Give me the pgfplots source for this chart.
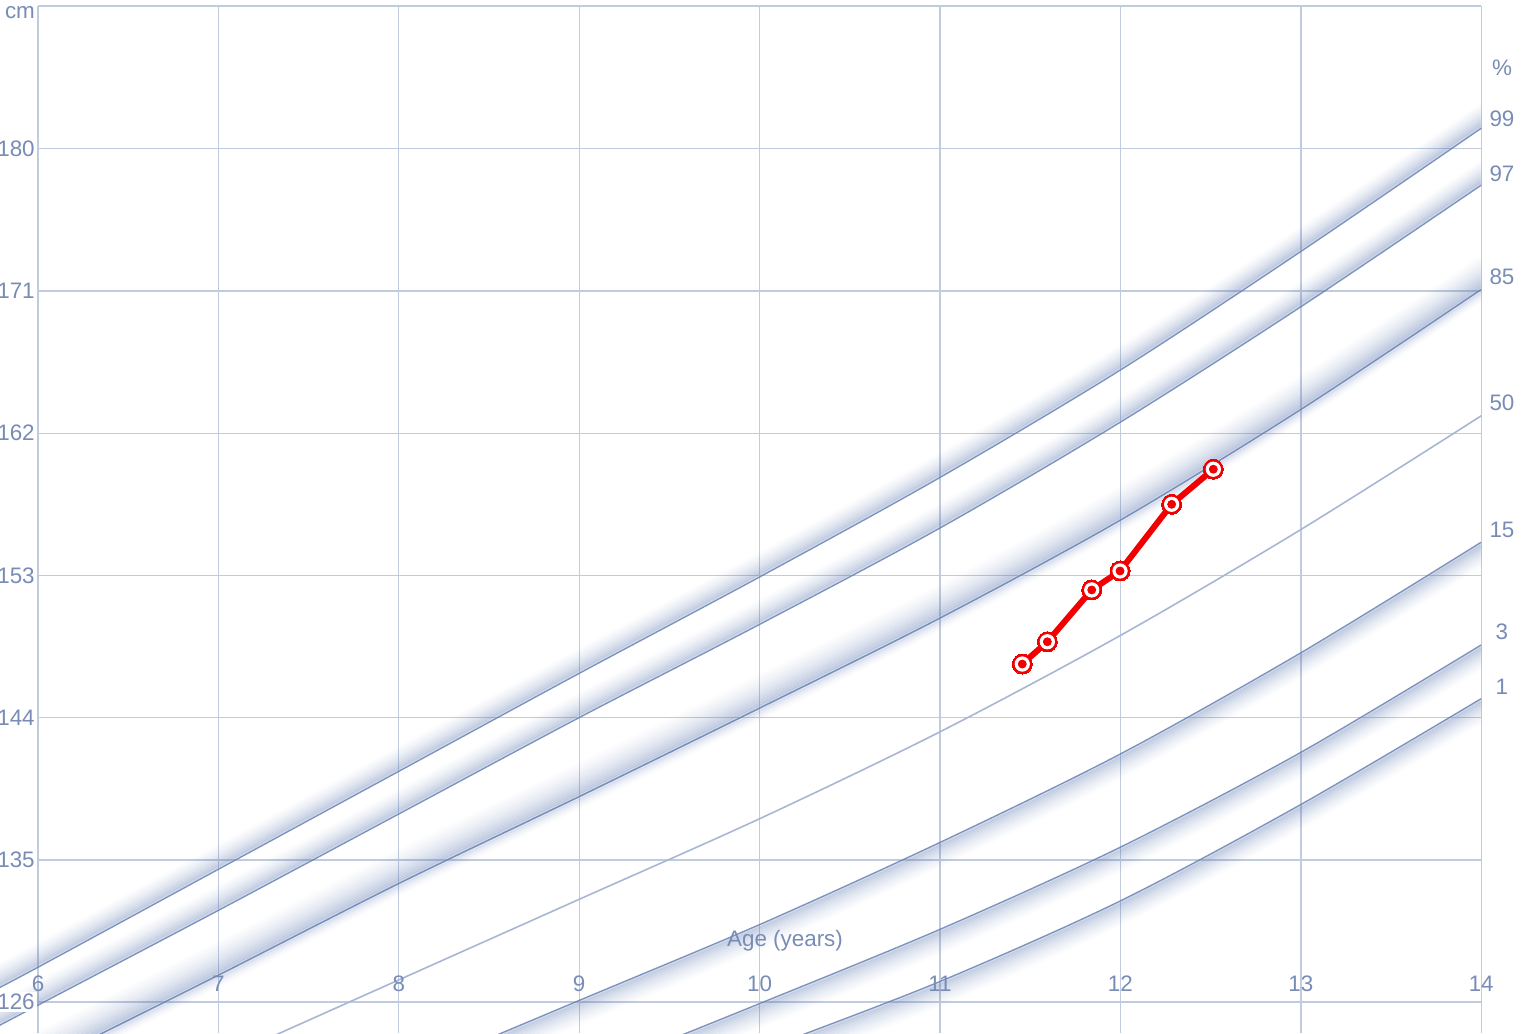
\documentclass[border=0pt]{standalone}
\usepackage{fontspec}
\setmainfont{Liberation Sans}
\usepackage{pgfplots}
\usepackage{pgfplotstable}
\pgfplotsset{compat=1.18}
\definecolor{gridc}{RGB}{192,203,222}
\definecolor{txtc}{RGB}{120,140,182}
\definecolor{bandc}{RGB}{92,120,176}
\definecolor{linec}{RGB}{100,126,178}
\definecolor{medc}{RGB}{168,182,212}
\definecolor{redc}{RGB}{240,0,0}
\tikzset{lbl/.style={text=txtc, font=\fontsize{11.2pt}{13pt}\selectfont, inner sep=1pt}}

\pgfplotstableread{
x y
5.7 126.4
6 128.2
7 134.4
8 140.6
9 146.8
10 152.9
11 159.2
12 166.0
13 173.5
14 181.3
}\pnn
\pgfplotstableread{
x y
5.7 124.0
6 125.8
7 131.8
8 137.9
9 144.0
10 149.9
11 156.0
12 162.7
13 170.0
14 177.7
}\pns
\pgfplotstableread{
x y
5.7 120.3
6 122.0
7 127.7
8 133.5
9 139.0
10 144.6
11 150.3
12 156.5
13 163.5
14 171.1
}\pef
\pgfplotstableread{
x y
5.7 115.8
6 117.3
7 122.3
8 127.4
9 132.5
10 137.6
11 143.1
12 149.2
13 155.9
14 163.1
}\pfz
\pgfplotstableread{
x y
7 116.5
8 121.3
9 126.1
10 130.9
11 136.1
12 141.7
13 148.1
14 155.1
}\pft
\pgfplotstableread{
x y
8 116.7
9 121.3
10 125.9
11 130.6
12 135.8
13 141.8
14 148.6
}\pth
\pgfplotstableread{
x y
9 118.6
10 122.9
11 127.3
12 132.4
13 138.5
14 145.2
}\pon
\pgfplotstableread{
x y
11.456 147.39
11.595 148.80
11.841 152.08
11.998 153.28
12.284 157.50
12.515 159.72
}\child

\newcommand{\layer}[3]{\addplot[draw=bandc, line width=1.8pt, opacity=#3, yshift=#2, smooth, forget plot] table {#1};}
\newcommand{\bandup}[1]{%
\layer{#1}{0.9pt}{0.20}\layer{#1}{1.8pt}{0.17}\layer{#1}{2.7pt}{0.15}\layer{#1}{3.6pt}{0.13}%
\layer{#1}{4.5pt}{0.11}\layer{#1}{5.4pt}{0.095}\layer{#1}{6.3pt}{0.08}\layer{#1}{7.2pt}{0.065}%
\layer{#1}{8.1pt}{0.05}\layer{#1}{9pt}{0.04}\layer{#1}{9.9pt}{0.03}\layer{#1}{10.8pt}{0.02}\layer{#1}{11.7pt}{0.012}%
\addplot[draw=linec, line width=0.7pt, opacity=0.8, smooth, forget plot] table {#1};}
\newcommand{\bandwide}[1]{%
\layer{#1}{0.9pt}{0.24}\layer{#1}{2pt}{0.21}\layer{#1}{3.1pt}{0.19}\layer{#1}{4.2pt}{0.17}%
\layer{#1}{5.3pt}{0.15}\layer{#1}{6.4pt}{0.13}\layer{#1}{7.5pt}{0.11}\layer{#1}{8.6pt}{0.095}%
\layer{#1}{9.7pt}{0.08}\layer{#1}{10.8pt}{0.065}\layer{#1}{11.9pt}{0.05}\layer{#1}{13pt}{0.04}%
\layer{#1}{14.1pt}{0.03}\layer{#1}{15.2pt}{0.02}\layer{#1}{16.3pt}{0.012}%
\layer{#1}{-0.9pt}{0.15}\layer{#1}{-2pt}{0.10}\layer{#1}{-3.1pt}{0.065}\layer{#1}{-4.2pt}{0.04}\layer{#1}{-5.3pt}{0.02}%
\addplot[draw=linec, line width=0.8pt, opacity=0.8, smooth, forget plot] table {#1};}
\newcommand{\banddown}[1]{%
\layer{#1}{-0.9pt}{0.20}\layer{#1}{-1.8pt}{0.17}\layer{#1}{-2.7pt}{0.15}\layer{#1}{-3.6pt}{0.13}%
\layer{#1}{-4.5pt}{0.11}\layer{#1}{-5.4pt}{0.095}\layer{#1}{-6.3pt}{0.08}\layer{#1}{-7.2pt}{0.065}%
\layer{#1}{-8.1pt}{0.05}\layer{#1}{-9pt}{0.04}\layer{#1}{-9.9pt}{0.03}\layer{#1}{-10.8pt}{0.02}\layer{#1}{-11.7pt}{0.012}%
\addplot[draw=linec, line width=0.7pt, opacity=0.8, smooth, forget plot] table {#1};}

\begin{document}
\begin{tikzpicture}
\begin{axis}[
  scale only axis, width=768pt, height=516.5pt,
  xmin=5.7894, xmax=14.3038, ymin=124.038, ymax=189.418,
  axis lines=none, xtick=\empty, ytick=\empty, clip=true,
]
% grid
\pgfplotsinvokeforeach{126,135,144,153,162,171,180}{
  \draw[gridc, line width=0.7pt] (axis cs:5.7894,#1) -- (axis cs:14,#1);
}
\pgfplotsinvokeforeach{6,7,8,9,10,11,12,13,14}{
  \draw[gridc, line width=0.7pt] (axis cs:#1,124.038) -- (axis cs:#1,189.04);
}
\draw[gridc, line width=0.7pt] (axis cs:6,189.04) -- (axis cs:14,189.04);

% percentile curves
\bandup{\pnn}
\bandup{\pns}
\bandwide{\pef}
\addplot[draw=medc, line width=0.8pt, smooth, forget plot] table {\pfz};
\banddown{\pft}
\banddown{\pth}
\banddown{\pon}

% child measurements
\addplot[draw=redc, line width=3pt, mark=*, mark size=5pt, mark options={fill=redc, draw=redc, line width=0pt}] table {\child};
\addplot[only marks, mark=*, mark size=3.6pt, mark options={fill=white, draw=white}] table {\child};
\addplot[only marks, mark=*, mark size=2pt, mark options={fill=redc, draw=redc}] table {\child};

% labels
\pgfplotsinvokeforeach{126,135,144,153,162,171,180}{
  \node[lbl, anchor=east, fill=white] at (axis cs:5.995,#1) {#1};
}
\pgfplotsinvokeforeach{6,7,8,9,10,11,12,13,14}{
  \node[lbl] at (axis cs:#1,127.14) {#1};
}
\node[lbl] at (axis cs:10.141,129.86) {Age (years)};
\node[lbl, anchor=north] at (axis cs:5.90,189.15) {cm};
\node[lbl] at (axis cs:14.115,185.11) {\%};
\node[lbl] at (axis cs:14.115,181.89) {99};
\node[lbl] at (axis cs:14.115,178.41) {97};
\node[lbl] at (axis cs:14.115,171.89) {85};
\node[lbl] at (axis cs:14.115,163.91) {50};
\node[lbl] at (axis cs:14.115,155.87) {15};
\node[lbl] at (axis cs:14.115,149.42) {3};
\node[lbl] at (axis cs:14.115,145.94) {1};
\end{axis}
\pgfresetboundingbox
\path[use as bounding box] (current axis.south west) rectangle (current axis.north east);
\end{tikzpicture}
\end{document}
